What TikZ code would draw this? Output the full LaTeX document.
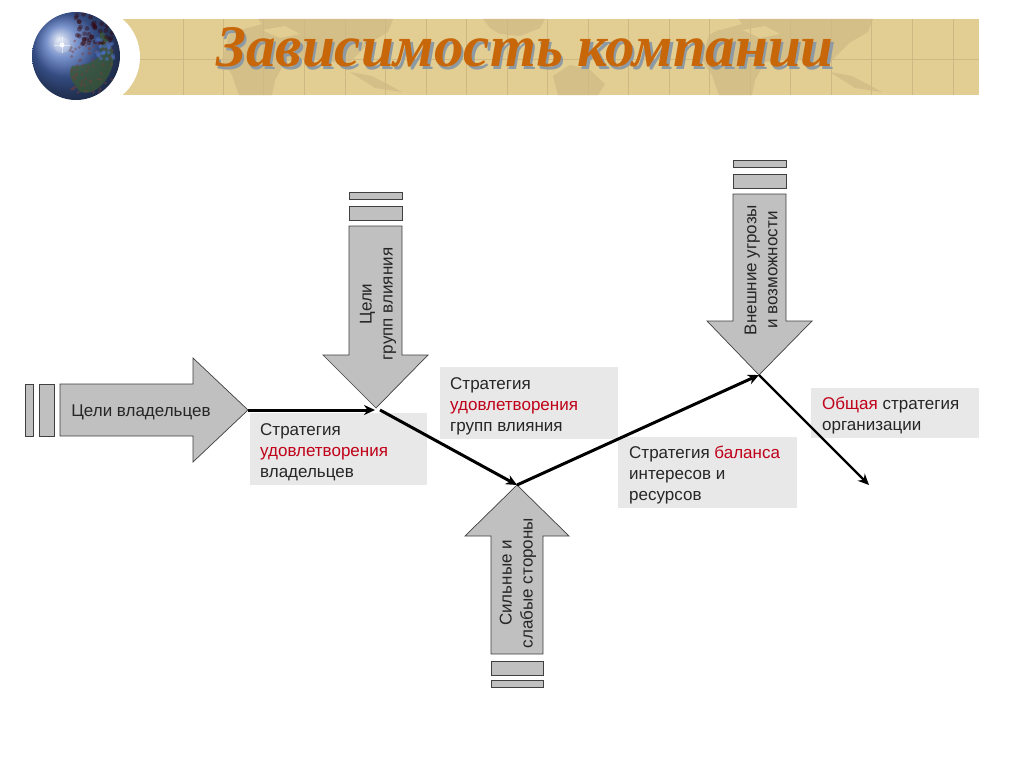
\documentclass[tikz,border=0pt]{standalone}
\usepackage{fontspec}
\usetikzlibrary{arrows.meta,shadings}
\setmainfont{Liberation Sans}
\newfontfamily\titlefont{Liberation Serif}
\definecolor{band}{HTML}{E2CE92}
\definecolor{land}{HTML}{D4BF88}
\definecolor{gridl}{HTML}{CFB883}
\definecolor{arrowfill}{HTML}{C0C0C0}
\definecolor{arrowline}{HTML}{404040}
\definecolor{boxfill}{HTML}{E8E8E8}
\definecolor{redtxt}{HTML}{C00018}
\definecolor{titlecol}{HTML}{C8660A}
\definecolor{titleshadow}{HTML}{8D9AA3}
\definecolor{globeblue}{HTML}{4A6CB8}
\definecolor{globegreen}{HTML}{3C5A34}
\definecolor{globebrown}{HTML}{7A3F3A}
\newcommand{\rd}[1]{\textcolor{redtxt}{#1}}
\newcommand{\shadowtitle}[1]{\rlap{\kern2.5pt\raisebox{-2.5pt}{\textcolor{titleshadow}{#1}}}\textcolor{titlecol}{#1}}
\begin{document}
\begin{tikzpicture}[x=1pt,y=-1pt,
  bigarrow/.style={draw=arrowline,fill=arrowfill,line width=0.7pt},
  infobox/.style={fill=boxfill,inner sep=0pt,anchor=north west},
  lab/.style={font=\fontsize{17}{21}\selectfont,align=left,text=black!85,inner sep=0pt},
  lablr/.style={font=\fontsize{17}{21}\selectfont,align=left,text=black!85,inner sep=0pt,anchor=west},
  flow/.style={draw=black,line width=3pt,-{Stealth[length=11pt,width=10pt]}},
  flowthin/.style={draw=black,line width=2.2pt,-{Stealth[length=11pt,width=10pt]}},
  landmass/.style={fill=land,draw=none},
  titletext/.style={font=\titlefont\bfseries\itshape\fontsize{59}{62}\selectfont,inner sep=0pt}]
\useasboundingbox (0,0) rectangle (1024,768);
\fill[white] (0,0) rectangle (1024,768);
% band
\fill[band] (120,19) rectangle (979,95);
\begin{scope}
\clip (120,19) rectangle (979,95);
\foreach \s in {0,480}{
 \begin{scope}[xshift=\s pt]
 \fill[landmass] (222,60) -- (229,35) -- (259,19) -- (393,19) -- (388,32) -- (369,43) -- (352,60) -- (345,68) -- (335,62) -- (318,60) -- (300,60) -- (285,62) -- (275,80) -- (272,95) -- (239,95) -- (232,75) -- cycle;
 \fill[band] (262,30) -- (285,26) -- (300,34) -- (280,38) -- cycle;
 \fill[band] (232,24) -- (258,19) -- (262,24) -- (240,30) -- cycle;
 \fill[landmass] (350,72) -- (372,76) -- (402,92) -- (375,88) -- cycle;
 \end{scope}}
\fill[landmass] (483,19) -- (545,19) -- (540,28) -- (520,36) -- (500,34) -- (490,28) -- cycle;
\fill[landmass] (553,76) -- (570,65) -- (590,70) -- (605,84) -- (598,95) -- (558,95) -- cycle;
\end{scope}
\foreach \x in {183,223,263,304,345,385,426,466,507,547,588,628,669,709,750,790,831,871,912,953}
  \draw[gridl,line width=0.7pt] (\x,19) -- (\x,95);
\draw[gridl,line width=0.7pt] (120,59) -- (979,59);
\fill[white] (90,57) circle (50);
\fill[white] (60,9) rectangle (120,105);
% globe
\begin{scope}
\clip (76,56) circle (44);
\shade[ball color=globeblue] (76,56) circle (44);
\pgfmathsetseed{7}
\fill[globegreen,opacity=.75] (100,30) .. controls (112,40) and (116,56) .. (112,68) .. controls (106,84) and (94,96) .. (80,92) .. controls (74,84) and (66,76) .. (72,66) .. controls (84,66) and (96,62) .. (100,54) -- cycle;
\foreach \i in {1,...,70}{
  \pgfmathsetmacro{\dx}{70+rnd*46}
  \pgfmathsetmacro{\dy}{40+rnd*54}
  \fill[globebrown,opacity=.45] (\dx,\dy) circle (1.6);
}
\foreach \i in {1,...,45}{
  \pgfmathsetmacro{\dx}{76+rnd*42}
  \pgfmathsetmacro{\dy}{14+rnd*30}
  \fill[black!80!red,opacity=.4] (\dx,\dy) circle (2.4);
}
\foreach \i in {1,...,25}{
  \pgfmathsetmacro{\dx}{96+rnd*18}
  \pgfmathsetmacro{\dy}{38+rnd*22}
  \fill[globeblue,opacity=.6] (\dx,\dy) circle (2);
}
\fill[white,opacity=.2] (62,45) circle (8);
\fill[white,opacity=.85] (62,45) circle (2.5);
\draw[white,opacity=.5,line width=0.6pt] (54,45) -- (70,45) (62,37) -- (62,53);
\end{scope}
% title
\node (title) [titletext] at (525,49) {\shadowtitle{Зависимость компании}};
% boxes
\node (b1) [infobox,minimum width=177pt,minimum height=72pt] at (250,413) {};
\node (b2) [infobox,minimum width=178pt,minimum height=72pt] at (440,367) {};
\node (b3) [infobox,minimum width=179pt,minimum height=71pt] at (618,437) {};
\node (b4) [infobox,minimum width=168pt,minimum height=50pt] at (811,388) {};
\node (t1) [lablr] at (260,452) {Стратегия\\\rd{удовлетворения}\\владельцев};
\node (t2) [lablr] at (450,406) {Стратегия\\\rd{удовлетворения}\\групп влияния};
\node (t3) [lablr] at (629,475) {Стратегия \rd{баланса}\\интересов и\\ресурсов};
\node (t4) [lablr] at (822,416) {\rd{Общая} стратегия\\организации};
% arrow 1
\draw[bigarrow] (25,384) rectangle (33,436);
\draw[bigarrow] (39,384) rectangle (54,436);
\draw[bigarrow] (60,384) -- (193,384) -- (193,358) -- (248,410) -- (193,462) -- (193,436) -- (60,436) -- cycle;
\coordinate (tipa) at (248,410);
\node (ta) [lab] at (141,412) {Цели владельцев};
% arrow 2
\draw[bigarrow] (349,192) rectangle (402,199);
\draw[bigarrow] (349,206) rectangle (402,220);
\draw[bigarrow] (349,226) -- (402,226) -- (402,355) -- (428,355) -- (376,408) -- (323,355) -- (349,355) -- cycle;
\coordinate (tipb) at (376,408);
\node (tb) [lab,rotate=90,align=center] at (378,304) {Цели\\групп влияния};
% arrow 3
\draw[bigarrow] (491,661) rectangle (543,675);
\draw[bigarrow] (491,680) rectangle (543,687);
\draw[bigarrow] (491,654) -- (543,654) -- (543,536) -- (569,536) -- (517,485) -- (465,536) -- (491,536) -- cycle;
\coordinate (tipc) at (517,485);
\node (tc) [lab,rotate=90,align=center] at (518,583) {Сильные и\\слабые стороны};
% arrow 4
\draw[bigarrow] (733,160) rectangle (786,167);
\draw[bigarrow] (733,174) rectangle (786,188);
\draw[bigarrow] (733,194) -- (786,194) -- (786,321) -- (812,321) -- (759,375) -- (707,321) -- (733,321) -- cycle;
\coordinate (tipd) at (759,375);
\node (td) [lab,rotate=90,align=center] at (761,270) {Внешние угрозы\\и возможности};
% flow
\coordinate (startb) at (380,410);
\coordinate (tipe) at (869,485);
\coordinate (tipbb) at (375,410);
\draw[flow] (tipa) -- (tipbb);
\draw[flow] (startb) -- (tipc);
\draw[flow] (tipc) -- (tipd);
\draw[flowthin] (tipd) -- (tipe);
\end{tikzpicture}
\end{document}
